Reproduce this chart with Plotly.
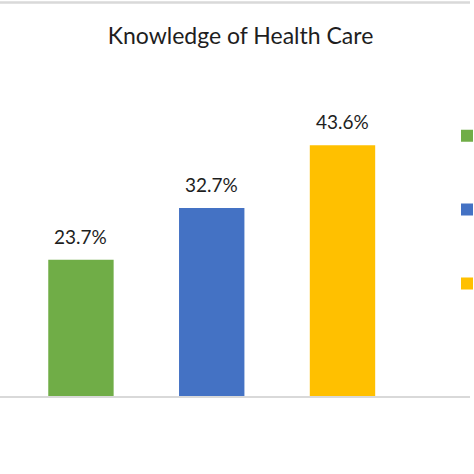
import plotly.graph_objects as go

categories = ["Poor", "Moderate", "Good"]
values = [23.7, 32.7, 43.6]
labels = ["23.7%", "32.7%", "43.6%"]
colors = ["#70AD47", "#4472C4", "#FFC000"]

W, H = 474, 474
FONT = "Lato, 'Open Sans', sans-serif"
TXT = "#1e1e1e"

fig = go.Figure()
for i, (c, v, col) in enumerate(zip(categories, values, colors)):
    fig.add_trace(go.Bar(
        x=[c], y=[v], name=c, marker=dict(color=col, line=dict(width=0)),
        width=0.5, legendgroup=c, showlegend=True,
    ))

for c, v, t in zip(categories, values, labels):
    fig.add_annotation(x=c, y=v, text=t, showarrow=False, xref="x", yref="y",
                       yanchor="bottom", yshift=10,
                       font=dict(family=FONT, size=19, color=TXT))

# top border of chart area
fig.add_shape(type="line", xref="paper", yref="paper", x0=0, x1=1,
              y0=1 + (100 - 2.5) / 296, y1=1 + (100 - 2.5) / 296,
              line=dict(color="#D9D9D9", width=2.5))

fig.update_layout(
    width=W, height=H,
    margin=dict(l=0, r=4, t=100, b=78, autoexpand=False),
    paper_bgcolor="white", plot_bgcolor="white",
    barmode="overlay",
    title=dict(text="Knowledge of Health Care", x=240.5 / W, xref="container",
               xanchor="center", y=1 - 36 / H, yanchor="middle",
               font=dict(family=FONT, size=23, color=TXT)),
    xaxis=dict(type="category", categoryorder="array", categoryarray=categories,
               range=[-0.619, 2.975], showticklabels=False, ticks="",
               showgrid=False, zeroline=False, showline=True,
               linecolor="#D9D9D9", linewidth=1.5, fixedrange=True),
    yaxis=dict(range=[0, 296 / 5.75], showticklabels=False, ticks="",
               showgrid=False, zeroline=False, showline=False, fixedrange=True),
    legend=dict(x=447 / 470, xanchor="left", y=1 - 17.5 / 296, yanchor="top",
                tracegroupgap=47.5, font=dict(family=FONT, size=18, color=TXT),
                bgcolor="rgba(0,0,0,0)", traceorder="grouped"),
    showlegend=True,
)

fig.write_html("out.html")
